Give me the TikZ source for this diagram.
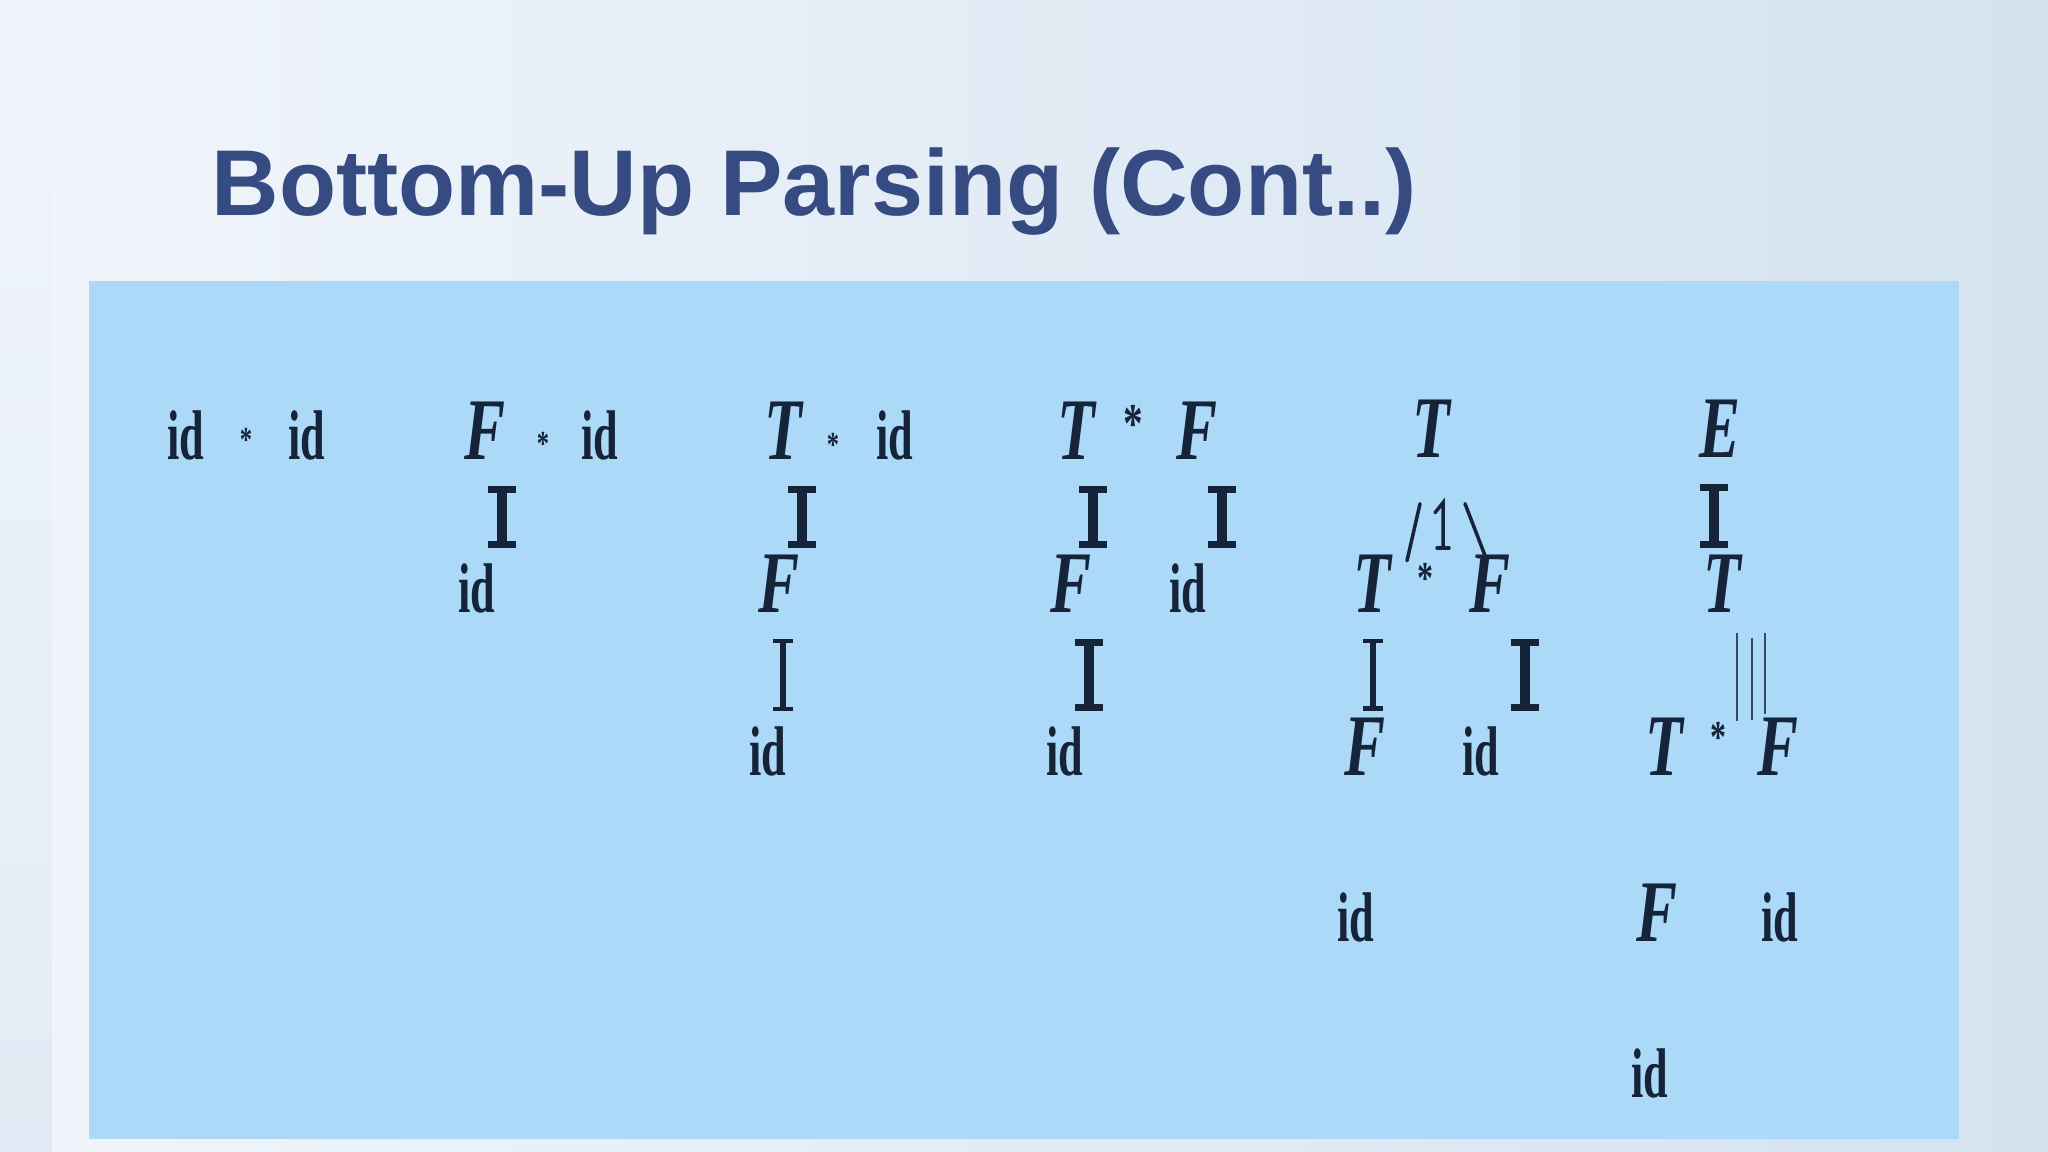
\documentclass[tikz,border=0pt]{standalone}
\usepackage{fontspec}
\setmainfont{Liberation Sans}
\newfontfamily\titlefont{Liberation Sans}
\newfontfamily\capfont[FakeStretch=0.7]{Liberation Serif}
\newfontfamily\idfont[FakeStretch=0.63]{Liberation Serif}
\usetikzlibrary{arrows.meta,calc}
\definecolor{panelblue}{RGB}{173,217,248}
\definecolor{titleblue}{RGB}{53,75,130}
\definecolor{inkc}{RGB}{22,36,58}
\definecolor{bgl}{RGB}{241,245,251}
\definecolor{bgm}{RGB}{236,242,249}
\definecolor{bgr}{RGB}{212,227,240}
\definecolor{bgstrip}{RGB}{226,235,245}
\tikzset{
  nt/.style={inner sep=0pt, anchor=base, text=inkc, font=\capfont\bfseries\itshape\fontsize{25pt}{25pt}\selectfont},
  tm/.style={inner sep=0pt, anchor=base, text=inkc, font=\idfont\bfseries\fontsize{20pt}{20pt}\selectfont},
  ast/.style={inner sep=0pt, anchor=center, text=inkc, font=\capfont\bfseries\fontsize{#1}{#1}\selectfont},
  heavy/.style={draw=inkc, line width=2.8pt, arrows={Bar[width=8pt,line width=2pt]-Bar[width=8pt,line width=2pt]}},
  light/.style={draw=inkc, line width=1.7pt, arrows={Bar[width=5.5pt,line width=1.3pt]-Bar[width=5.5pt,line width=1.3pt]}},
  edgeline/.style={draw=inkc, line width=1pt, line cap=round},
  faint/.style={draw=inkc!80!panelblue, line width=0.7pt}
}
\newcommand\conn[4]{% style, top node, bottom node, dx
  \draw[#1] ($(#2.south)+(#4,25)$) -- ($(#2.south |- #3.south)+(#4,-66)$);}
\begin{document}
\begin{tikzpicture}[x=0.1mm,y=-0.1mm]
\useasboundingbox (0,0) rectangle (2048,1152);
% slide background
\shade[left color=bgl, middle color=bgm, right color=bgr] (0,0) rectangle (2048,1152);
\shade[top color=bgl, bottom color=bgstrip] (0,0) rectangle (52,1152);
% title
\node[anchor=base west, inner sep=0pt, text=titleblue,
      font=\titlefont\bfseries\fontsize{26.6pt}{26.6pt}\selectfont] (title) at (211,216) {Bottom-Up Parsing (Cont..)};
% panel
\fill[panelblue] (89,281) rectangle (1959,1139);

% column 1
\node[tm] (a1) at (186,460) {id};
\node[ast=10pt] (a2) at (246,440) {*};
\node[tm] (a3) at (307,460) {id};

% column 2
\node[nt] (b1) at (485,460) {F};
\node[ast=10pt] (b2) at (543,444) {*};
\node[tm] (b3) at (600,460) {id};
\node[tm] (b4) at (477,613) {id};
\conn{heavy}{b1}{b4}{17}

% column 3
\node[nt] (c1) at (783,460) {T};
\node[ast=10pt] (c2) at (833,445) {*};
\node[tm] (c3) at (895,460) {id};
\node[nt] (c4) at (779,613) {F};
\node[tm] (c5) at (768,776) {id};
\conn{heavy}{c1}{c4}{19}
\conn{light}{c4}{c5}{4}

% column 4
\node[nt] (d1) at (1076,460) {T};
\node[ast=16pt] (d2) at (1133,424) {*};
\node[nt] (d3) at (1197,460) {F};
\node[nt] (d4) at (1071,613) {F};
\node[tm] (d5) at (1188,613) {id};
\node[tm] (d6) at (1065,776) {id};
\conn{heavy}{d1}{d4}{17}
\conn{heavy}{d3}{d5}{25}
\conn{heavy}{d4}{d6}{18}

% column 5
\node[nt] (e1) at (1431,458) {T};
\node[nt] (e2) at (1372,613) {T};
\node[ast=13pt] (e3) at (1425,578) {*};
\node[nt] (e4) at (1490,613) {F};
\node[nt] (e5) at (1365,776) {F};
\node[tm] (e6) at (1481,776) {id};
\node[tm] (e7) at (1356,942) {id};
\draw[edgeline] ($(e1.south)+(-11,45)$) -- ($(e2.south)+(35,-53)$);
\draw[edgeline] ($(e1.south)+(4,54)$) -- ($(e1.south)+(12,44)$) -- ($(e3.center)+(18,-30)$);
\draw[edgeline] ($(e3.center)+(12,-30)$) -- ($(e3.center)+(24,-30)$);
\draw[edgeline] ($(e1.south)+(34,45)$) -- ($(e4.south)+(-3,-53)$);
\conn{light}{e2}{e5}{1}
\conn{heavy}{e4}{e6}{35}

% column 6
\node[nt] (f1) at (1720,458) {E};
\node[nt] (f2) at (1722,613) {T};
\node[nt] (f3) at (1664,776) {T};
\node[ast=13pt] (f4) at (1718,737) {*};
\node[nt] (f5) at (1778,776) {F};
\node[nt] (f6) at (1657,942) {F};
\node[tm] (f7) at (1780,942) {id};
\node[tm] (f8) at (1650,1098) {id};
\conn{heavy}{f1}{f2}{-6}
\draw[faint] ($(f2.south)+(15,19)$) -- ($(f2.south |- f3.south)+(15,-56)$);
\draw[faint] ($(f2.south)+(30,24)$) -- ($(f2.south |- f4.center)+(30,-17)$);
\draw[faint] ($(f2.south)+(43,19)$) -- ($(f2.south |- f5.south)+(43,-63)$);
\end{tikzpicture}
\end{document}
